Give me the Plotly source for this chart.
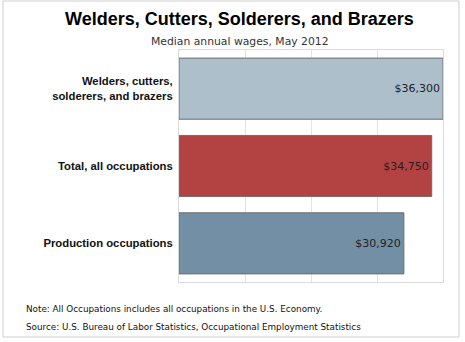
import plotly.graph_objects as go

# Median annual wages, May 2012
categories = ["Welders, cutters,<br>solderers, and brazers", "Total, all occupations", "Production occupations"]
wages = [36300, 34750, 30920]
wage_labels = ["$36,300", "$34,750", "$30,920"]
bar_colors = ["#adbfcb", "#b34343", "#738fa5"]

W, H = 465, 342
L, R, T, B = 179, 443, 50, 282   # plot area edges in pixels


def px(x):
    return (x - L) / (R - L)


def py(y):
    return (B - y) / (B - T)


fig = go.Figure(
    go.Bar(
        y=categories,
        x=wages,
        orientation="h",
        marker=dict(color=bar_colors, line=dict(color="#6e6e6e", width=1)),
        text=wage_labels,
        textposition="inside",
        insidetextanchor="end",
        textfont=dict(family="DejaVu Sans", size=11, color="#222222"),
        cliponaxis=False,
        hoverinfo="skip",
    )
)

fig.update_layout(
    width=W,
    height=H,
    margin=dict(l=L, r=W - R, t=T, b=H - B),
    paper_bgcolor="white",
    plot_bgcolor="white",
    bargap=0.21,
    showlegend=False,
    xaxis=dict(
        range=[0, max(wages)],
        dtick=max(wages) / 4,
        showticklabels=False,
        showgrid=True,
        gridcolor="#e3e3e3",
        zeroline=False,
        showline=True,
        mirror=True,
        linecolor="#dadada",
        linewidth=1,
        ticks="",
    ),
    yaxis=dict(
        autorange="reversed",
        showgrid=False,
        zeroline=False,
        showline=True,
        mirror=True,
        linecolor="#dadada",
        linewidth=1,
        ticks="",
        ticklabelstandoff=3,
        tickfont=dict(family="Liberation Sans", size=11.3, color="#111111", weight="bold"),
    ),
    shapes=[
        dict(
            type="rect", xref="paper", yref="paper",
            x0=px(3), x1=px(459), y0=py(337), y1=py(1),
            line=dict(color="#cfcfcf", width=1), fillcolor="rgba(0,0,0,0)",
            layer="below",
        )
    ],
    annotations=[
        dict(
            text="<b>Welders, Cutters, Solderers, and Brazers</b>",
            xref="paper", yref="paper", x=px(239), y=py(19),
            xanchor="center", yanchor="middle", showarrow=False,
            font=dict(family="Liberation Sans", size=18, color="#000000"),
        ),
        dict(
            text="Median annual wages, May 2012",
            xref="paper", yref="paper", x=px(240), y=py(41),
            xanchor="center", yanchor="middle", showarrow=False,
            font=dict(family="DejaVu Sans", size=10.8, color="#333333"),
        ),
        dict(
            text="Note: All Occupations includes all occupations in the U.S. Economy.",
            xref="paper", yref="paper", x=px(24), y=py(309),
            xanchor="left", yanchor="middle", showarrow=False,
            font=dict(family="DejaVu Sans", size=8.8, color="#111111"),
        ),
        dict(
            text="Source: U.S. Bureau of Labor Statistics, Occupational Employment Statistics",
            xref="paper", yref="paper", x=px(24), y=py(327),
            xanchor="left", yanchor="middle", showarrow=False,
            font=dict(family="DejaVu Sans", size=8.8, color="#111111"),
        ),
    ],
)

fig.write_html("out.html")
